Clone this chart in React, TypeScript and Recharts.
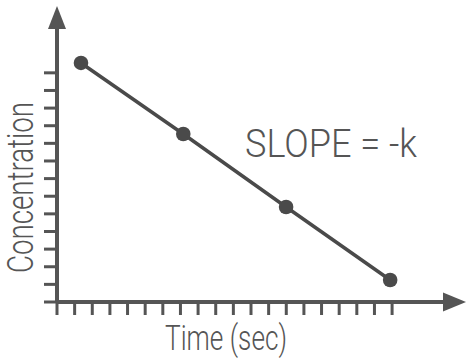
import { LineChart, Line, XAxis, YAxis, ReferenceDot, Customized } from 'recharts';

const timeValues = [1.36, 7.16, 12.99, 18.89];
const concentrationValues = [13.56, 9.53, 5.39, 1.25];
const xTicks = Array.from({ length: 20 }, (_, i) => i);
const yTicks = Array.from({ length: 14 }, (_, i) => i);
const xLabel = 'Time (sec)';
const yLabel = 'Concentration';
const slopeLabel = 'SLOPE = -k';

const data = timeValues.map((t, i) => ({ t, c: concentrationValues[i] }));

const INK = '#555555';
const FONT = 'Roboto, "Liberation Sans", sans-serif';

function ArrowRight(props: any) {
    const { cx, cy } = props;
    return <path d={`M${cx - 2},${cy - 9.5} L${cx + 21},${cy} L${cx - 2},${cy + 9.5} Z`} fill={INK} />;
}

function ArrowUp(props: any) {
    const { cx, cy } = props;
    return <path d={`M${cx - 9},${cy + 2} L${cx},${cy - 21} L${cx + 9},${cy + 2} Z`} fill={INK} />;
}

function Labels() {
    return (
        <g fill="#555555" fontFamily={FONT} fontWeight={300}>
            <text x={331} y={157} fontSize={38} textAnchor="middle" textLength={172} lengthAdjust="spacingAndGlyphs">
                {slopeLabel}
            </text>
            <text x={226} y={350} fontSize={35} textAnchor="middle" textLength={122} lengthAdjust="spacingAndGlyphs">
                {xLabel}
            </text>
            <text
                x={33}
                y={187.5}
                fontSize={36}
                textAnchor="middle"
                textLength={171}
                lengthAdjust="spacingAndGlyphs"
                transform="rotate(-90, 33, 187.5)"
            >
                {yLabel}
            </text>
        </g>
    );
}

export default function App() {
    return (
        <div style={{ position: 'absolute', left: 0, top: 0, width: 474, height: 361, background: '#fff' }}>
            <LineChart width={474} height={361} data={data} margin={{ top: 27, right: 29, bottom: 0, left: 0 }}>
                <XAxis
                    dataKey="t"
                    type="number"
                    domain={[0, 22]}
                    ticks={xTicks}
                    interval={0}
                    height={59}
                    tickSize={13}
                    tickFormatter={() => ''}
                    axisLine={{ stroke: INK, strokeWidth: 4 }}
                    tickLine={{ stroke: INK, strokeWidth: 3 }}
                />
                <YAxis
                    dataKey="c"
                    type="number"
                    domain={[0, 15.6]}
                    ticks={yTicks}
                    interval={0}
                    width={57}
                    tickSize={13}
                    tickFormatter={() => ''}
                    axisLine={{ stroke: INK, strokeWidth: 4 }}
                    tickLine={{ stroke: INK, strokeWidth: 3 }}
                />
                <Line
                    dataKey="c"
                    stroke="#4a4a4a"
                    strokeWidth={3.5}
                    dot={{ r: 7.3, fill: '#4a4a4a', stroke: 'none' }}
                    isAnimationActive={false}
                />
                <ReferenceDot x={22} y={0} ifOverflow="visible" shape={ArrowRight} />
                <ReferenceDot x={0} y={15.6} ifOverflow="visible" shape={ArrowUp} />
                <Customized component={Labels} />
            </LineChart>
        </div>
    );
}
